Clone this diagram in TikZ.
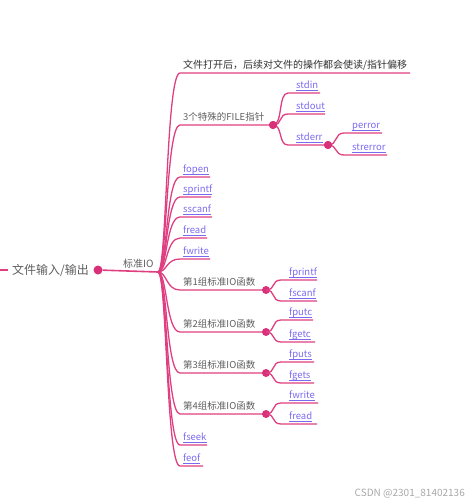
\documentclass[tikz,border=0pt]{standalone}
\usepackage{fontspec}
\setmainfont{Noto Sans CJK SC}
\definecolor{linec}{HTML}{DF3F80}
\definecolor{dotc}{HTML}{D9307A}
\definecolor{linkc}{HTML}{7A6AF0}
\definecolor{grayc}{HTML}{5E5E5E}
\definecolor{darkc}{HTML}{303030}
\definecolor{wmc}{HTML}{A8A8A8}
\begin{document}
\begin{tikzpicture}[x=1pt,y=-1pt,
  br/.style={draw=linec, line width=1.3pt},
  dotn/.style={circle, fill=dotc, inner sep=0pt, minimum size=8pt},
  lbl/.style={anchor=base west, inner sep=0pt, text=grayc, font=\fontsize{9.5}{11}\selectfont},
  lnk/.style={anchor=base west, inner sep=0pt, text=linkc, font=\fontsize{9.5}{11}\selectfont},
  ulin/.style={draw=linkc, line width=0.6pt}]
\useasboundingbox (0,0) rectangle (474,504);
% root
\coordinate (stub) at (0,270);
\coordinate (stubend) at (8,270);
\draw[br, line width=1.6pt] (stub) -- (stubend);
\node[anchor=west, inner sep=0pt, text=grayc, font=\fontsize{12}{14}\selectfont] (root) at (12,270) {文件输入/输出};
\node[dotn, minimum size=9pt] (rootdot) at (98,270) {};
\coordinate (hub) at (158,272);
\draw[br, line width=1.6pt] (rootdot) -- (hub);
\node[lbl, font=\fontsize{10}{12}\selectfont] (bz) at (123,267) {标准IO};
% main branches
\foreach \n/\y/\xe in {top/73/410, file/125/273, fopen/177/210, sprintf/197/211, sscanf/217/212, fread/238/207, fwrite/259/210, ga/290/266, gb/332/266, gc/373/266, gd/414/266, fseek/445/207, feof/466/203} {
  \coordinate (\n s) at (180,\y);
  \coordinate (\n e) at (\xe,\y);
  \draw[br] (hub) .. controls (167,272) and (166,\y) .. (\n s) -- (\n e);
}
% main labels
\node[anchor=base west, inner sep=0pt, text=darkc, font=\fontsize{10}{12}\selectfont] (toplbl) at (183,68) {文件打开后，后续对文件的操作都会使读/指针偏移};
\node[lbl] (filelbl) at (183,120) {3个特殊的FILE指针};
\node[lbl] (galbl) at (183,285) {第1组标准IO函数};
\node[lbl] (gblbl) at (183,327) {第2组标准IO函数};
\node[lbl] (gclbl) at (183,368) {第3组标准IO函数};
\node[lbl] (gdlbl) at (183,409) {第4组标准IO函数};
\foreach \n in {fopen, sprintf, sscanf, fread, fwrite, fseek, feof} {
  \path (\n s) ++(3,-5) node[lnk] (\n lbl) {\n};
  \draw[ulin] ([yshift=-2pt]\n lbl.base west) -- ([yshift=-2pt]\n lbl.base east);
}
% dots
\node[dotn] (filedot) at (273,125) {};
\node[dotn] (errdot) at (328,145) {};
\node[dotn] (gadot) at (266,290) {};
\node[dotn] (gbdot) at (266,332) {};
\node[dotn] (gcdot) at (266,373) {};
\node[dotn] (gddot) at (266,414) {};
% sub branches
\foreach \d/\n/\y/\xe/\tx in {filedot/stdin/93/320/296, filedot/stdout/114/325/296, filedot/stderr/145/328/296,
  errdot/perror/133/382/352, errdot/strerror/155/387/352,
  gadot/fprintf/280/317/289, gadot/fscanf/301/317/289,
  gbdot/fputc/320/313/289, gbdot/fgetc/342/315/289,
  gcdot/fputs/362/314/289, gcdot/fgets/383/314/289,
  gddot/fwrite/403/318/289, gddot/fread/424/317/289} {
  \coordinate (\n s2) at (\tx-8,\y);
  \coordinate (\n e2) at (\xe,\y);
  \draw[br] (\d.center) .. controls ++(10,0) and ++(-10,0) .. (\n s2) -- (\n e2);
  \node[lnk] (\n l2) at (\tx,\y-5) {\n};
  \draw[ulin] ([yshift=-2pt]\n l2.base west) -- ([yshift=-2pt]\n l2.base east);
}
\node[dotn] at (filedot) {};
\node[dotn] at (errdot) {};
\node[anchor=base east, inner sep=0pt, text=wmc, font=\fontsize{10}{12}\selectfont] (wm) at (465,496) {CSDN @2301\_81402136};
\end{tikzpicture}
\end{document}
